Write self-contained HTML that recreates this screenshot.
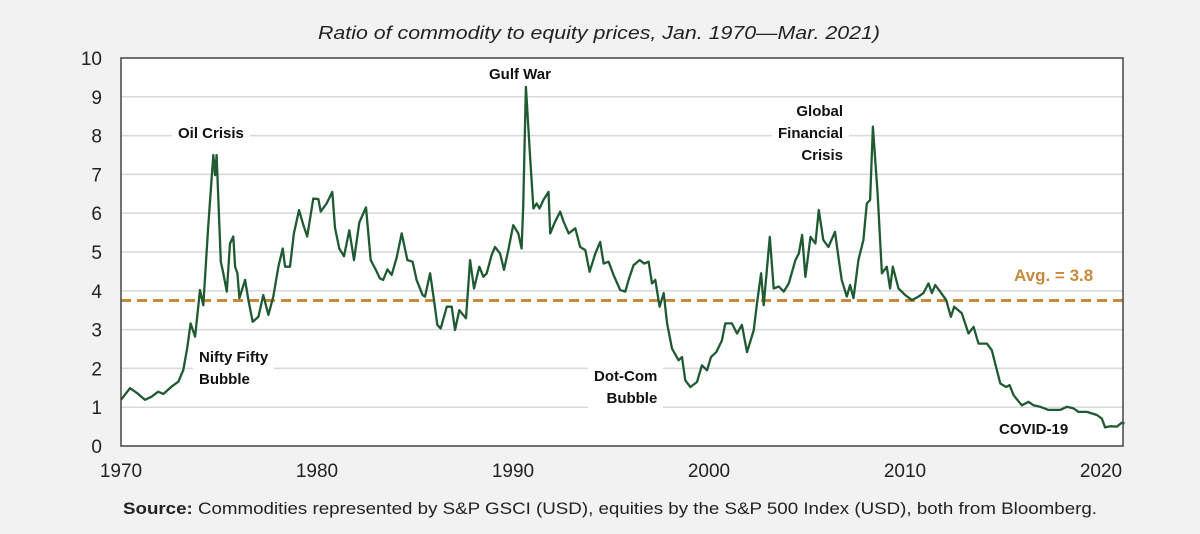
<!DOCTYPE html>
<html><head><meta charset="utf-8"><style>
body{margin:0;background:#f2f2f2;width:1200px;height:534px;overflow:hidden;font-family:"Liberation Sans",sans-serif;position:relative}
.ann{position:absolute;background:#fff;font-weight:bold;font-size:15px;line-height:22px;color:#111;padding:0 6px}
</style></head><body>
<svg id="chart" width="1200" height="534" style="position:absolute;left:0;top:0">
<text x="318" y="39" textLength="562" lengthAdjust="spacingAndGlyphs" font-style="italic" font-size="18" fill="#222">Ratio of commodity to equity prices, Jan. 1970—Mar. 2021)</text>
<rect x="121" y="58" width="1002" height="388" fill="#fff"/>
<g id="grid"></g><g id="yt"></g><g id="xt"></g>
<line id="avg" x1="121" x2="1123" stroke="#c8893a" stroke-width="3" stroke-dasharray="10 6"/>
<path id="line" fill="none" stroke="#1f5a33" stroke-width="2.3" stroke-linejoin="round"/>
<rect x="121" y="58" width="1002" height="388" fill="none" stroke="#444" stroke-width="1.5"/>
<text x="123" y="514" textLength="974" lengthAdjust="spacingAndGlyphs" font-size="17" fill="#222"><tspan font-weight="bold">Source:</tspan> Commodities represented by S&amp;P GSCI (USD), equities by the S&amp;P 500 Index (USD), both from Bloomberg.</text>
</svg>
<div class="ann" style="left:483px;top:64px">Gulf War</div>
<div class="ann" style="left:172px;top:123px">Oil Crisis</div>
<div class="ann" style="left:193px;top:347px">Nifty Fifty<br>Bubble</div>
<div class="ann" style="left:588px;top:366px;text-align:right">Dot-Com<br>Bubble</div>
<div class="ann" style="left:772px;top:101px;text-align:right">Global<br>Financial<br>Crisis</div>
<div class="ann" style="left:993px;top:419px">COVID-19</div>
<div class="ann" style="left:1008px;top:265px;color:#c8893a;font-size:17px">Avg. = 3.8</div>
<script>
const years=[1970.0,1970.46,1970.8,1971.22,1971.56,1971.9,1972.16,1972.58,1972.93,1973.18,1973.38,1973.55,1973.78,1974.03,1974.2,1974.45,1974.71,1974.8,1974.88,1975.09,1975.22,1975.4,1975.56,1975.73,1975.82,1975.94,1976.04,1976.33,1976.5,1976.72,1977.01,1977.26,1977.52,1977.77,1978.03,1978.25,1978.37,1978.62,1978.82,1979.08,1979.3,1979.5,1979.81,1980.07,1980.19,1980.49,1980.78,1980.92,1981.14,1981.38,1981.65,1981.89,1982.16,1982.5,1982.74,1983.01,1983.21,1983.38,1983.59,1983.81,1984.07,1984.32,1984.61,1984.88,1985.08,1985.39,1985.51,1985.77,1985.97,1986.14,1986.31,1986.62,1986.87,1987.04,1987.26,1987.6,1987.81,1988.01,1988.28,1988.49,1988.66,1988.91,1989.08,1989.34,1989.54,1989.76,1990.01,1990.27,1990.44,1990.52,1990.66,1990.87,1991.04,1991.21,1991.35,1991.55,1991.81,1991.9,1992.15,1992.41,1992.58,1992.84,1993.18,1993.43,1993.69,1993.91,1994.2,1994.45,1994.62,1994.88,1995.13,1995.47,1995.73,1995.9,1996.15,1996.46,1996.7,1996.92,1997.09,1997.26,1997.48,1997.69,1997.86,1998.11,1998.45,1998.62,1998.79,1999.05,1999.39,1999.64,1999.9,2000.1,2000.37,2000.66,2000.83,2001.17,2001.43,2001.68,2001.94,2002.28,2002.45,2002.66,2002.79,2003.1,2003.3,2003.56,2003.81,2004.07,2004.41,2004.58,2004.75,2004.92,2005.18,2005.43,2005.6,2005.83,2006.09,2006.43,2006.6,2006.77,2007.03,2007.2,2007.37,2007.62,2007.88,2008.05,2008.22,2008.36,2008.6,2008.82,2009.07,2009.24,2009.38,2009.67,2010.01,2010.35,2010.69,2010.94,2011.2,2011.37,2011.54,2011.79,2012.1,2012.34,2012.51,2012.9,2013.24,2013.5,2013.75,2014.18,2014.43,2014.86,2015.16,2015.33,2015.54,2015.96,2016.3,2016.56,2016.9,2017.32,2017.92,2018.26,2018.6,2018.85,2019.28,2019.79,2020.04,2020.21,2020.47,2020.81,2021.06,2021.2];
const ratios=[1.19,1.49,1.37,1.19,1.27,1.40,1.34,1.53,1.66,1.96,2.52,3.16,2.82,4.02,3.63,5.65,7.5,6.98,7.5,4.75,4.45,3.98,5.22,5.4,4.62,4.45,3.81,4.28,3.76,3.2,3.33,3.89,3.38,3.85,4.62,5.09,4.62,4.62,5.48,6.08,5.70,5.40,6.38,6.36,6.04,6.25,6.55,5.62,5.09,4.89,5.56,4.79,5.76,6.15,4.79,4.53,4.32,4.28,4.55,4.41,4.87,5.48,4.79,4.75,4.28,3.89,3.85,4.45,3.76,3.12,3.03,3.59,3.59,2.99,3.50,3.29,4.79,4.06,4.62,4.36,4.45,4.92,5.13,4.96,4.54,5.05,5.69,5.48,5.09,6.17,9.26,7.45,6.12,6.25,6.12,6.34,6.55,5.48,5.78,6.04,5.78,5.48,5.61,5.13,5.05,4.49,4.96,5.26,4.70,4.75,4.41,4.02,3.98,4.28,4.66,4.79,4.70,4.75,4.19,4.28,3.59,3.94,3.16,2.51,2.21,2.29,1.69,1.52,1.65,2.08,1.95,2.29,2.42,2.72,3.16,3.16,2.90,3.12,2.42,2.98,3.68,4.45,3.63,5.39,4.06,4.11,3.98,4.19,4.79,4.96,5.44,4.36,5.39,5.22,6.08,5.31,5.13,5.52,4.87,4.28,3.85,4.15,3.81,4.79,5.31,6.25,6.34,8.23,6.51,4.45,4.62,4.06,4.62,4.06,3.89,3.76,3.85,3.94,4.19,3.94,4.15,3.98,3.76,3.33,3.59,3.42,2.90,3.07,2.64,2.64,2.47,1.61,1.52,1.57,1.31,1.05,1.14,1.05,1.01,0.93,0.93,1.01,0.97,0.88,0.88,0.80,0.71,0.48,0.51,0.50,0.60,0.58];
const yTicks=[0,1,2,3,4,5,6,7,8,9,10];
const xTicks=[1970,1980,1990,2000,2010,2020];
const average=3.75;
const X=y=>121+(y-1970)*19.6, Y=v=>446-v*38.8;
const ns="http://www.w3.org/2000/svg";
const g=document.getElementById('grid'),yt=document.getElementById('yt'),xt=document.getElementById('xt');
yTicks.forEach(t=>{
 if(t>0&&t<10){const l=document.createElementNS(ns,'line');
 
 
 l.setAttribute('x1',121);l.setAttribute('x2',1123);l.setAttribute('y1',Y(t));l.setAttribute('y2',Y(t));l.setAttribute('stroke','#d9d9d9');l.setAttribute('stroke-width','1.5');g.appendChild(l);}
 const tx=document.createElementNS(ns,'text');
 
 
 tx.setAttribute('x',102);tx.setAttribute('y',Y(t)+7);tx.setAttribute('text-anchor','end');tx.setAttribute('font-size','19');tx.setAttribute('fill','#222');tx.textContent=t;yt.appendChild(tx);
});
xTicks.forEach(t=>{const tx=document.createElementNS(ns,'text');
 
 
 tx.setAttribute('x',X(t));tx.setAttribute('y',477);tx.setAttribute('text-anchor','middle');tx.setAttribute('font-size','19');tx.setAttribute('fill','#222');tx.textContent=t;xt.appendChild(tx);});
const a=document.getElementById('avg');a.setAttribute('y1',Y(average));a.setAttribute('y2',Y(average));
document.getElementById('line').setAttribute('d',years.map((y,i)=>(i?'L':'M')+X(y).toFixed(1)+','+Y(ratios[i]).toFixed(1)).join(''));
</script>
</body></html>
